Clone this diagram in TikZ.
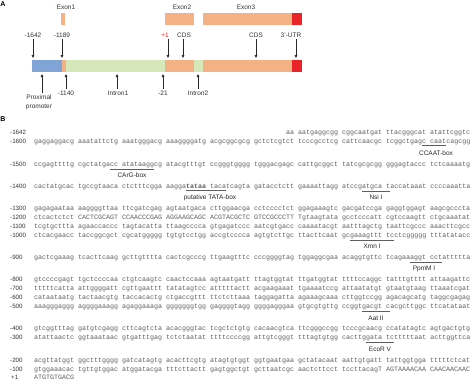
\documentclass[tikz,border=0pt]{standalone}
\usepackage{fontspec}
\setmainfont{Liberation Sans}
\setmonofont{Liberation Mono}
\usepackage{xcolor}
\usetikzlibrary{arrows.meta,positioning}

\definecolor{promblue}{RGB}{128,164,214}
\definecolor{exonorange}{RGB}{244,177,131}
\definecolor{introngreen}{RGB}{214,232,186}
\definecolor{utrred}{RGB}{232,36,40}
\definecolor{seqgray}{RGB}{95,95,95}

\begin{document}
\begin{tikzpicture}[x=1pt, y=-1pt,
  panel/.style={font=\fontsize{7}{8}\selectfont\bfseries, inner sep=0pt},
  lbl/.style={font=\fontsize{6.5}{7.5}\selectfont, inner sep=1.5pt, text=black!80},
  site/.style={font=\fontsize{6.5}{7.5}\selectfont, inner sep=0pt, text=black!85},
  num/.style={font=\fontsize{6.2}{7}\selectfont, anchor=base west, inner sep=0pt, text=black!80},
  seq/.style={font=\ttfamily\fontsize{6.667}{8}\selectfont, anchor=base west, inner sep=0pt, text=seqgray},
  arr/.style={-{Triangle[length=3pt,width=2.6pt]}, line width=0.6pt, black!85}
]
\useasboundingbox (0,0) rectangle (474,384);

% Panel A: gene structure
\node[panel] (pa) at (3,4) {A};

% exons
\fill[exonorange] (61,13) rectangle (65,25);
\fill[exonorange] (165,13) rectangle (194,25);
\fill[exonorange] (203,13) rectangle (292,25);
\fill[utrred] (292,13) rectangle (302,25);
\node[lbl] (exon1) at (66,7)  {Exon1};
\node[lbl] (exon2) at (182,7) {Exon2};
\node[lbl] (exon3) at (246,7) {Exon3};

% gene bar
\fill[promblue]    (32,60)  rectangle (62,72);
\fill[exonorange]  (62,60)  rectangle (66,72);
\fill[introngreen] (66,60)  rectangle (165,72);
\fill[exonorange]  (165,60) rectangle (194,72);
\fill[introngreen] (194,60) rectangle (203,72);
\fill[exonorange]  (203,60) rectangle (292,72);
\fill[utrred]      (292,60) rectangle (302,72);

% marks above the bar
\node[lbl] (t1642) at (33,35)  {-1642};
\node[lbl] (t1189) at (62,35)  {-1189};
\node[lbl, text=utrred] (tp1) at (165,35) {+1};
\node[lbl] (tcds1) at (184,35) {CDS};
\node[lbl] (tcds2) at (256,35) {CDS};
\node[lbl] (tutr)  at (291,35) {3'-UTR};
\coordinate (c1642) at (33,58);
\coordinate (c1189) at (62,58);
\coordinate (cp1)   at (168,58);
\coordinate (ccds1) at (183,58);
\coordinate (ccds2) at (256,58);
\coordinate (cutr)  at (296,58);
\draw[arr] (t1642) -- (c1642);
\draw[arr] (t1189) -- (c1189);
\draw[arr] (tp1.south -| cp1) -- (cp1);
\draw[arr] (tcds1.south -| ccds1) -- (ccds1);
\draw[arr] (tcds2) -- (ccds2);
\draw[arr] (tutr.south -| cutr) -- (cutr);

% marks below the bar
\node[lbl, align=center, anchor=north] (bprox) at (39,93) {Proximal\\[2pt]promoter};
\node[lbl] (b1140) at (66,93)  {-1140};
\node[lbl] (bint1) at (118,93) {Intron1};
\node[lbl] (b21)   at (163,93) {-21};
\node[lbl] (bint2) at (198,93) {Intron2};
\coordinate (cprox) at (42,74);
\coordinate (c1140) at (66,74);
\coordinate (cint1) at (117,74);
\coordinate (c21)   at (163,74);
\coordinate (cint2) at (198,74);
\draw[arr] (bprox.north -| cprox) -- (cprox);
\draw[arr] (b1140) -- (c1140);
\draw[arr] (bint1.north -| cint1) -- (cint1);
\draw[arr] (b21) -- (c21);
\draw[arr] (bint2) -- (cint2);

% Panel B: promoter sequence
\node[panel] (pb) at (3,119) {B};

\node[num] (n1642) at (10,134.8) {-1642};
\node[seq] (r1642) at (286,134.8) {aa aatgaggcgg cggcaatgat ttacgggcat atattcggtc};
\node[num] (n1600) at (10,143.7) {-1600};
\node[seq] (r1600) at (34,143.7) {gaggaggacg aaatattctg aaatgggacg aaaggggatg acgcggcgcg gctctcgtct tcccgcctcg cattcaacgc tcggctgag\underline{c caat}cagcgg};
\node[site] (ccaat) at (436,153) {CCAAT-box};
\node[num] (n1500) at (10,166) {-1500};
\node[seq] (r1500) at (34,166) {ccgagttttg cgctatga\underline{cc atataagg}cg atacgtttgt ccgggtgggg tgggacgagc cattgcggct tatcgcgcgg gggagtaccc tctcaaaatg};
\node[site] (carg) at (132,175.4) {CArG-box};
\node[num] (n1400) at (10,188.3) {-1400};
\node[seq] (r1400) at (34,188.3) {cactatgcac tgccgtaaca ctctttcgga aagga\underline{\textbf{tataa} taca}tcagta gatacctctt gaaaattagg atccg\underline{atgca t}accataaat ccccaaatta};
\node[site] (tata) at (210,197.6) {putative TATA-box};
\node[site] (nsi)  at (376,197.6) {Nsi I};
\node[num] (n1300) at (10,210.6) {-1300};
\node[seq] (r1300) at (34,210.6) {gagagaataa aaggggttaa ttcgatcgag agtaatgaca cttggaacga cctcccctct ggagaaagtc gacgatccga gaggtggagt aagcgcccta};
\node[num] (n1200) at (10,219.5) {-1200};
\node[seq] (r1200) at (34,219.5) {ctcactctct CACTCGCAGT CCAACCCGAG AGGAAGCAGC ACGTACGCTC GTCCGCCCTT Tgtaagtata gcctcccatt cgtccaagtt ctgcaaatat};
\node[num] (n1100) at (10,228.4) {-1100};
\node[seq] (r1100) at (34,228.4) {tcgtgcttta agaaccaccc tagtacatta ttaagcccca gtgagatccc aatcgtgacc caaaatacgt aatttagctg taattcgccc aaacttcgcc};
\node[num] (n1000) at (10,237.3) {-1000};
\node[seq] (r1000) at (34,237.3) {ctcacgaacc taccggcgct cgcatggggg tgtgtcctgg accgtcccca agtgtcttgc ttacttcaat gc\underline{gaaagttt tc}ctcggggg tttatatacc};
\node[site] (xmn) at (372,246.7) {Xmn I};
\node[num] (n900) at (10,259.6) {-900};
\node[seq] (r900) at (34,259.6) {gactcgaaag tcacttcaag gcttgtttta cactcgcccg ttgaagtttc cccggggtag tggaggcgaa acaggtgttc tcagaa\underline{aggt cct}attttta};
\node[site] (ppm) at (424,269) {PpmM I};
\node[num] (n800) at (10,281.9) {-800};
\node[seq] (r800) at (34,281.9) {gtccccgagt tgctccccaa ctgtcaagtc caactccaaa agtaatgatt ttagtggtat ttgatggtat ttttccaggc tatttgtttt attaagattc};
\node[num] (n700) at (10,290.8) {-700};
\node[seq] (r700) at (34,290.8) {tttttcatta attggggatt cgttgaattt tatatagtcc atttttactt acgaagaaat tgaaaatccg attaatatgt gtaatgtaag ttaaatcgat};
\node[num] (n600) at (10,299.7) {-600};
\node[seq] (r600) at (34,299.7) {cataataatg tactaacgtg taccacactg ctgaccgttt ttctcttaaa taggagatta agaaagcaaa cttggtccgg agacagcatg taggcgagag};
\node[num] (n500) at (10,308.6) {-500};
\node[seq] (r500) at (34,308.6) {aaagggaggg aggggaaagg agaggaaaga gggggggtgg gaggggtagg ggggagggaa gtgcgtgttg ccggt\underline{gacgt c}acgcttggc ttcatataat};
\node[site] (aat) at (376,318) {Aat II};
\node[num] (n400) at (10,330.9) {-400};
\node[seq] (r400) at (34,330.9) {gtcggtttag gatgtcgagg cttcagtcta acacgggtac tcgctctgtg cacaacgtca ttcgggccgg tcccgcaacg ccatatagtc agtgactgtg};
\node[num] (n300) at (10,339.8) {-300};
\node[seq] (r300) at (34,339.8) {atattaactc ggtaaataac gtgatttgag tctctaatat ttttccccgg attgtcgggt tttagtgtgg cacttg\underline{gata tc}tttttaat acttggttca};
\node[site] (ecor) at (380,349.2) {EcoR V};
\node[num] (n200) at (10,362.1) {-200};
\node[seq] (r200) at (34,362.1) {acgttatggt ggctttgggg gatcatagtg acacttcgtg atagtgtggt ggtgaatgaa gctatacaat aattgtgatt tattggtgga tttttctcat};
\node[num] (n100) at (10,371) {-100};
\node[seq] (r100) at (34,371) {gtggaaacac tgttgtggac atggatacga tttcttactt gagtggctgt gcttaatcgc aactcttcct tccttacagT AGTAAAACAA CAACAACAAC};
\node[num] (np1) at (11,379.9) {+1};
\node[seq] (rp1) at (34,379.9) {ATGTGTGACG};
\end{tikzpicture}
\end{document}
